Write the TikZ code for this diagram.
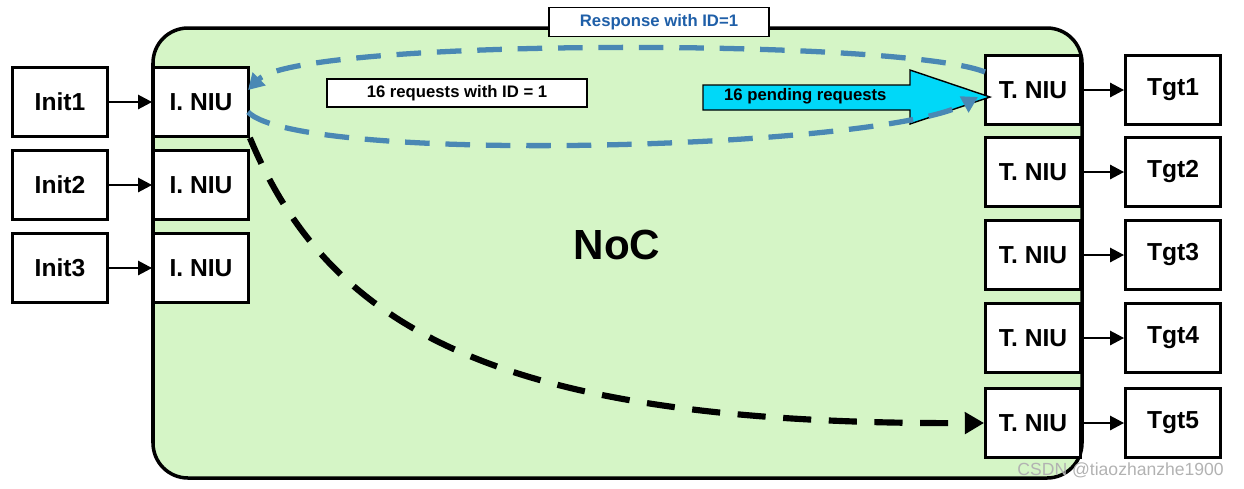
\documentclass[tikz,border=0pt]{standalone}
\usepackage{fontspec}
\setmainfont{Liberation Sans}
\usetikzlibrary{arrows.meta}
\definecolor{noc}{HTML}{D5F5C6}
\definecolor{dblue}{HTML}{4A88B4}
\definecolor{tblue}{HTML}{1F5FA8}
\definecolor{acyan}{HTML}{00D8F8}
\begin{document}
\begin{tikzpicture}[x=0.02cm,y=-0.02cm,
  box/.style={draw,line width=1.6pt,fill=white,minimum width=1.9cm,minimum height=1.38cm,font=\bfseries\fontsize{14}{16}\selectfont,inner sep=0},
  lab/.style={draw,line width=0.8pt,fill=white,font=\bfseries\fontsize{9.5}{11}\selectfont},
  conn/.style={-{Triangle[length=8pt,width=8pt]},line width=1.5pt},
  bdash/.style={dblue,line width=3pt,dash pattern=on 14pt off 9pt,-{Triangle[length=9pt,width=10pt]}}]
\useasboundingbox (0,0) rectangle (1244,488);
\draw[line width=2pt,fill=noc,rounded corners=0.7cm] (153,28) rectangle (1082,478);
\node[font=\bfseries\fontsize{24}{28}\selectfont] (noc) at (617,245) {NoC};
\foreach \i/\y in {1/102,2/185,3/268}{
  \node[box] (init\i) at (60,\y) {Init\i};
  \node[box] (iniu\i) at (201,\y) {I. NIU};
  \draw[conn] (init\i) -- (iniu\i);}
\foreach \i/\y in {1/90,2/172,3/255,4/338,5/423}{
  \node[box] (tniu\i) at (1033,\y) {T. NIU};
  \node[box] (tgt\i) at (1173,\y) {Tgt\i};
  \draw[conn] (tniu\i) -- (tgt\i);}
\node[lab,minimum width=4.4cm,minimum height=0.58cm,text=tblue] (resp) at (659,22) {Response with ID=1};
\node[lab,minimum width=5.2cm,minimum height=0.56cm] (req) at (457,93) {16 requests with ID = 1};
\draw[line width=0.8pt,fill=acyan] (703,85) -- (910,85) -- (910,70) -- (990,97) -- (910,124) -- (910,110) -- (703,110) -- cycle;
\node[font=\bfseries\fontsize{9.5}{11}\selectfont,anchor=west] (pendt) at (718,96) {16 pending requests};
\coordinate (tl) at (985,72);
\coordinate (il) at (248,90);
\coordinate (ib) at (248,112);
\coordinate (tb) at (978,97);
\draw[bdash] (tl) .. controls (900,38) and (300,38) .. (il);
\draw[bdash] (ib) .. controls (300,165) and (880,150) .. (tb);
\draw[line width=3.5pt,dash pattern=on 16pt off 10pt,-{Triangle[length=11pt,width=12pt]}] (iniu1.south east) .. controls (330,330) and (500,425) .. (tniu5.west);
\node[text=gray!60,font=\fontsize{10}{12}\selectfont,anchor=east] (wm) at (1230,470) {CSDN @tiaozhanzhe1900};
\end{tikzpicture}
\end{document}
